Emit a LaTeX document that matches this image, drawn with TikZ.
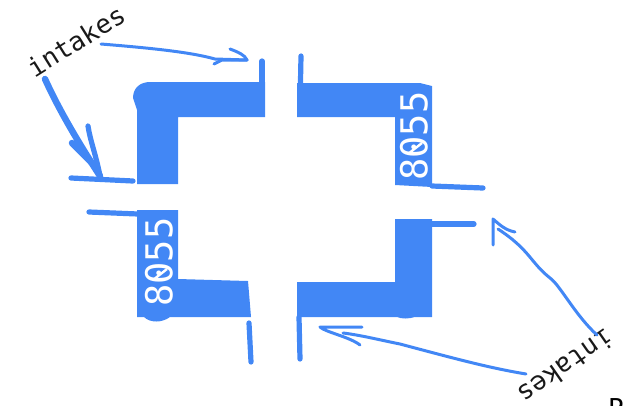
\documentclass[tikz,border=0pt]{standalone}
\usepackage{fontspec}
\setmonofont{DejaVu Sans Mono}
\usetikzlibrary{positioning}

\begin{document}
\begin{tikzpicture}[
        x=1pt, y=-1pt,
        pad/.style={fill=padblue, draw=none},
        stroke/.style={draw=padblue, line width=5.2pt, line cap=round, line join=round},
        thinstroke/.style={draw=padblue, line width=3pt, line cap=round, line join=round},
        heavystroke/.style={draw=padblue, line width=6.5pt, line cap=round, line join=round},
        zeroslash/.style={draw=white, line width=2.4pt},
        partlabel/.style={text=white, font=\ttfamily\fontsize{37}{37}\selectfont, rotate=90, inner sep=0pt},
        intakelabel/.style={text=black!90, font=\ttfamily\fontsize{26}{26}\selectfont, inner sep=0pt}
    ]
        \definecolor{padblue}{HTML}{4287F5}
        \useasboundingbox (0,0) rectangle (639,405);
        \clip (0,0) rectangle (639,405);

        % copper pads
        \fill[pad] (137,184) -- (137,110) -- (133,98) .. controls (133,88) and (140,82) .. (150,82) -- (265,82) -- (265,117) -- (178,117) -- (178,184) -- cycle;
        \fill[pad] (297,117) -- (297,83) -- (420,83) -- (432,86) -- (432,187) -- (395,185) -- (395,117) -- cycle;
        \fill[pad] (137,210) -- (178,210) -- (178,279) -- (248,281) -- (251,317) -- (170,317) .. controls (162,323) and (150,323) .. (144,317) -- (137,317) -- cycle;
        \fill[pad] (297,282) -- (395,282) -- (395,219) -- (432,219) -- (432,317) -- (415,317) .. controls (408,319) and (402,319) .. (397,317) -- (297,317) -- cycle;

        % pad tails
        \coordinate (tlA) at (262,61);
        \coordinate (tlB) at (262,84);
        \coordinate (trA) at (301,56);
        \coordinate (trB) at (300,106);
        \coordinate (blA) at (249,323);
        \coordinate (blB) at (251,362);
        \coordinate (brA) at (299,317);
        \coordinate (brB) at (300,359);
        \coordinate (lhA) at (71,178);
        \coordinate (lhB) at (133,181);
        \coordinate (lmA) at (89,212);
        \coordinate (lmB) at (138,214);
        \coordinate (rhA) at (432,186);
        \coordinate (rhB) at (483,188);
        \coordinate (rmA) at (432,224);
        \coordinate (rmB) at (474,224);
        \draw[stroke] (tlA) -- (tlB);
        \draw[stroke] (trA) -- (trB);
        \draw[stroke] (blA) -- (blB);
        \draw[stroke] (brA) -- (brB);
        \draw[stroke] (lhA) -- (lhB);
        \draw[stroke] (lmA) -- (lmB);
        \draw[stroke] (rhA) -- (rhB);
        \draw[stroke] (rmA) -- (rmB);

        % part numbers
        \node[partlabel] (partTR) at (414,136) {8055};
        \node[partlabel] (partBL) at (159,262) {8055};
        \draw[zeroslash] ([xshift=-6pt,yshift=-18pt]partTR.center) -- ([xshift=8pt,yshift=-7pt]partTR.center);
        \draw[zeroslash] ([xshift=-6pt,yshift=-18pt]partBL.center) -- ([xshift=8pt,yshift=-7pt]partBL.center);

        % labels
        \node[intakelabel, rotate=32] (intakesTL) at (76,41) {intakes};
        \node[intakelabel, rotate=215] (intakesBR) at (566,367) {intakes};
        \node[intakelabel, anchor=north, text=black] (cutoff) at (616,398) {P};

        % hand drawn arrows
        \coordinate (arrowTL) at (247,60);
        \coordinate (arrowL) at (100,176);
        \coordinate (arrowR) at (493,219);
        \coordinate (arrowB) at (320,327);
        \draw[thinstroke] (101,44) .. controls (150,48) and (190,52) .. (215,59) -- (arrowTL) .. controls (245,55) and (238,52) .. (230,49);
        \draw[thinstroke] (214,64) -- (222,60) -- (arrowTL);
        \draw[heavystroke] (45,79) .. controls (60,112) and (80,145) .. (arrowL);
        \draw[heavystroke] (72,143) -- (92,163);
        \draw[stroke] (88,126) .. controls (90,140) and (96,155) .. (arrowL);
        \draw[thinstroke] (597,335) .. controls (575,315) and (560,285) .. (550,278) .. controls (530,262) and (530,250) .. (498,229);
        \draw[thinstroke] (493,245) -- (arrowR) .. controls (500,225) and (505,230) .. (515,232);
        \draw[thinstroke] (526,374) .. controls (490,368) and (460,360) .. (400,344) .. controls (380,340) and (360,335) .. (343,333);
        \draw[thinstroke] (362,327) -- (arrowB) .. controls (325,332) and (350,337) .. (360,345);
    \end{tikzpicture}
\end{document}
